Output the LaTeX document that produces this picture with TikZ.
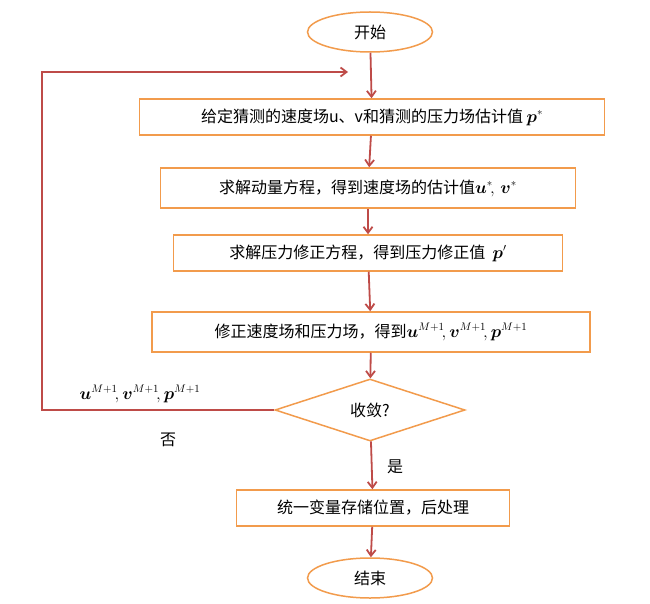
\documentclass[tikz,border=0pt]{standalone}
\usepackage{bm}
\usepackage{fontspec}
\newfontfamily\cjk{Noto Sans CJK SC}
\usetikzlibrary{shapes.geometric,arrows.meta}
\definecolor{bord}{HTML}{F29B4C}
\definecolor{arr}{HTML}{BE4B48}
\newcommand{\mb}[1]{\bm{#1}}
\begin{document}
\begin{tikzpicture}[x=1pt,y=-1pt,
  box/.style={draw=bord,line width=1.5pt,fill=white,minimum height=36pt,inner xsep=4pt,font=\cjk\fontsize{16}{18}\selectfont},
  term/.style={ellipse,draw=bord,line width=1.5pt,fill=white,minimum width=125pt,minimum height=40pt,font=\cjk\fontsize{16}{18}\selectfont},
  dia/.style={diamond,draw=bord,line width=1.5pt,fill=white,minimum width=190pt,minimum height=62pt,aspect=3,inner sep=0pt,font=\cjk\fontsize{16}{18}\selectfont},
  ar/.style={draw=arr,line width=1.8pt,-{Straight Barb[length=6pt,width=9pt]}},
  lab/.style={font=\cjk\fontsize{16}{18}\selectfont}]
\useasboundingbox (0,0) rectangle (650,604);
\node[term] (s) at (370,32) {开始};
\node[box,minimum width=465pt] (b1) at (372,117) {给定猜测的速度场u、v和猜测的压力场估计值 $\mb{p}^{*}$};
\node[box,minimum width=415pt,minimum height=40pt] (b2) at (368,188) {求解动量方程，得到速度场的估计值$\mb{u}^{*}\!,\,\mb{v}^{*}$};
\node[box,minimum width=389pt] (b3) at (368,253) {求解压力修正方程，得到压力修正值 \ $\mb{p}'$};
\node[box,minimum width=438pt,minimum height=40pt] (b4) at (371,332) {修正速度场和压力场，得到$\mb{u}^{M+1}\!,\mb{v}^{M+1}\!,\mb{p}^{M+1}$};
\node[dia] (d) at (370,410) {收敛?};
\node[box,minimum width=273pt] (b5) at (373,508) {统一变量存储位置，后处理};
\node[term] (e) at (370,578) {结束};
\coordinate (c1) at (42,410);
\coordinate (c2) at (42,72);
\coordinate (c3) at (348,72);
\draw[ar] (s) -- (b1);
\draw[ar] (b1) -- (b2);
\draw[ar] (b2) -- (b3);
\draw[ar] (b3) -- (b4);
\draw[ar] (b4) -- (d);
\draw[ar] (d) -- (b5);
\draw[ar] (b5) -- (e);
\draw[ar] (d.west) -- (c1) -- (c2) -- (c3);
\node[lab] (ul) at (140,394) {$\mb{u}^{M+1}\!,\mb{v}^{M+1}\!,\mb{p}^{M+1}$};
\node[lab] (no) at (168,440) {否};
\node[lab] (yes) at (395,467) {是};
\end{tikzpicture}
\end{document}
